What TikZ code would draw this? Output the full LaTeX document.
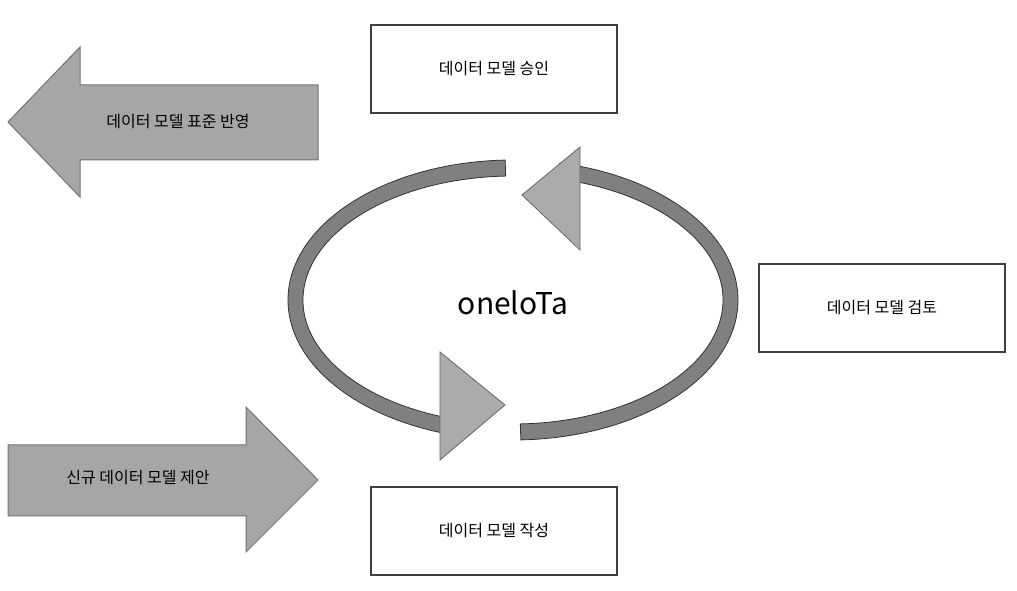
\documentclass[tikz,border=0pt]{standalone}
\usepackage{fontspec}
\setmainfont{Noto Sans CJK KR}
\usetikzlibrary{calc}
\begin{document}
\begin{tikzpicture}[x=1pt,y=1pt,
  box/.style={draw=black!75,line width=2pt,fill=white,minimum width=246pt,minimum height=88pt,inner sep=0pt,font=\fontsize{16}{19}\selectfont},
  bigarrow/.style={fill=black!35,draw=black!55,line width=1pt},
  band/.style={fill=black!50,draw=black!80,line width=0.8pt},
  head/.style={fill=black!33,draw=black!60,line width=0.8pt}]
\useasboundingbox (0,0) rectangle (1017,591);
\node[box] (approve) at (494,522) {데이터 모델 승인};
\node[box] (review) at (882,283) {데이터 모델 검토};
\node[box] (write) at (494,60) {데이터 모델 작성};
% left arrow
\draw[bigarrow] (8,469)--(80,544)--(80,506)--(318,506)--(318,431)--(80,431)--(80,394)--cycle;
\node[font=\fontsize{16}{19}\selectfont] (std) at (178,469) {데이터 모델 표준 반영};
% right arrow
\draw[bigarrow] (8,146)--(246,146)--(246,184)--(318,111)--(246,39)--(246,75)--(8,75)--cycle;
\node[font=\fontsize{16}{19}\selectfont] (prop) at (138,113) {신규 데이터 모델 제안};
% cycle
\coordinate (c) at (513,291);
\draw[band] ($(c)+(92:225 and 140)$) arc[start angle=92,end angle=258,x radius=225,y radius=140]
  -- ($(c)+(258:210 and 124)$) arc[start angle=258,end angle=92,x radius=210,y radius=124] -- cycle;
\draw[head] (440,239)--(505,186)--(440,131)--cycle;
\draw[band] ($(c)+(272:225 and 140)$) arc[start angle=272,end angle=438,x radius=225,y radius=140]
  -- ($(c)+(438:210 and 124)$) arc[start angle=438,end angle=272,x radius=210,y radius=124] -- cycle;
\draw[head] (580,444)--(522,396)--(580,341)--cycle;
\node[font=\fontsize{30}{34}\selectfont] (center) at (513,288) {oneloTa};
\end{tikzpicture}
\end{document}
